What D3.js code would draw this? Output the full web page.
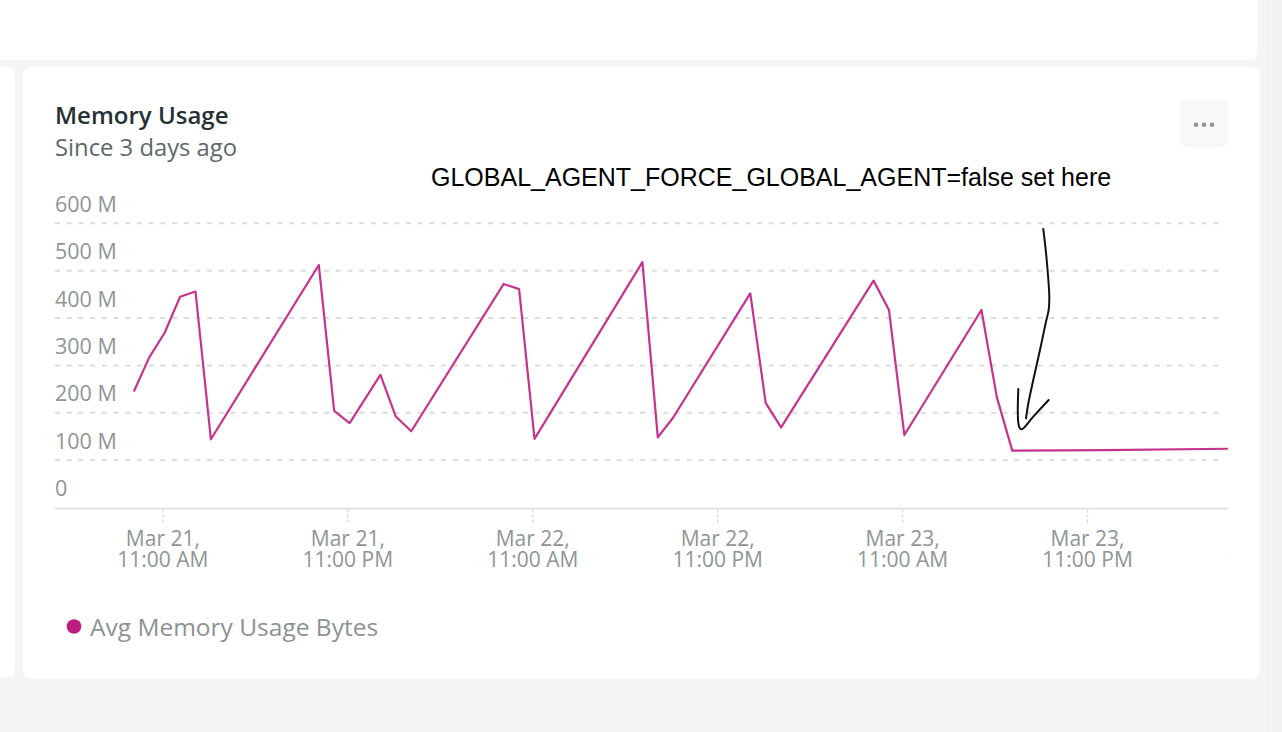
<!DOCTYPE html>
<html>
<head>
<meta charset="utf-8">
<script src="https://cdn.jsdelivr.net/npm/d3@7"></script>
<style>
  html, body { margin: 0; padding: 0; background: #f4f5f5; }
  svg { display: block; font-family: "Open Sans", sans-serif; }
</style>
</head>
<body>
<div id="chart"></div>
<script>
// Avg memory usage samples (hourly, only the turning points are kept)
const sampleTimes = [
	'2023-03-21T09:07', '2023-03-21T10:07', '2023-03-21T11:07', '2023-03-21T12:07',
	'2023-03-21T13:07', '2023-03-21T14:07', '2023-03-21T21:07', '2023-03-21T22:07',
	'2023-03-21T23:07', '2023-03-22T01:07', '2023-03-22T02:07', '2023-03-22T03:07',
	'2023-03-22T09:07', '2023-03-22T10:07', '2023-03-22T11:07', '2023-03-22T18:07',
	'2023-03-22T19:07', '2023-03-22T20:07', '2023-03-23T01:07', '2023-03-23T02:07',
	'2023-03-23T03:07', '2023-03-23T09:07', '2023-03-23T10:07', '2023-03-23T11:07',
	'2023-03-23T16:07', '2023-03-23T17:07', '2023-03-23T18:07', '2023-03-24T00:07',
	'2023-03-24T08:07'
];
const memoryMB = [
	245, 317, 369, 445, 456, 144, 512, 204, 178, 280, 192, 161,
	472, 461, 145, 518, 148, 190, 452, 221, 169, 479, 417, 153,
	417, 233, 120, 121, 124
];

const yTicks = [0, 100, 200, 300, 400, 500, 600]; // in M
const xTickTimes = [
	'2023-03-21T11:00', '2023-03-21T23:00', '2023-03-22T11:00', '2023-03-22T23:00',
	'2023-03-23T11:00', '2023-03-23T23:00', '2023-03-24T11:00'
];
const timeDomain = ['2023-03-21T04:00', '2023-03-24T08:07'];

const seriesName = 'Avg Memory Usage Bytes';
const title = 'Memory Usage';
const subtitle = 'Since 3 days ago';
const noteText = 'GLOBAL_AGENT_FORCE_GLOBAL_AGENT=false set here';

// hand drawn arrow, [hours after domain start, value in M]
const arrowShaft = [[64.13, 588], [64.35, 523], [64.52, 445], [64.48, 417], [64.29, 390],
	[63.92, 333], [63.48, 269], [63.16, 220], [63.01, 188]];
const arrowHead = [[62.51, 250], [62.56, 171], [62.73, 165], [63.48, 192], [64.48, 227]];

const W = 1282, H = 732;
const plot = { left: 55, right: 1228, top: 223.3, bottom: 507.5 };
const lineColor = '#c6338f';

const parse = d3.timeParse('%Y-%m-%dT%H:%M');
const data = sampleTimes.map((t, i) => ({ t: parse(t), v: memoryMB[i] * 1e6 }));

const svg = d3.select('#chart').append('svg')
	.attr('width', W)
	.attr('height', H);

// background + cards
svg.append('rect').attr('width', W).attr('height', H).attr('fill', '#f4f5f5');
svg.append('rect').attr('x', 1266).attr('width', W - 1266).attr('height', H).attr('fill', '#f1f3f3');
svg.append('rect').attr('x', -20).attr('y', -20).attr('width', 1277.7).attr('height', 80)
	.attr('rx', 8).attr('fill', '#fff');
svg.append('rect').attr('x', -20).attr('y', 67).attr('width', 34.7).attr('height', 610)
	.attr('rx', 8).attr('fill', '#fff');
svg.append('rect').attr('x', 23).attr('y', 67).attr('width', 1237).attr('height', 611.7)
	.attr('rx', 8).attr('fill', '#fff');

// header
svg.append('text').attr('x', 55).attr('y', 123.5)
	.attr('font-size', 24).attr('font-weight', 600).attr('fill', '#263133')
	.text(title);
svg.append('text').attr('x', 55).attr('y', 155.5)
	.attr('font-size', 23.8).attr('fill', '#5d6868')
	.text(subtitle);

// "..." menu button
const btn = svg.append('g');
btn.append('rect').attr('x', 1180).attr('y', 99).attr('width', 48).attr('height', 48)
	.attr('rx', 8).attr('fill', '#f7f8f8');
btn.selectAll('circle').data([-8, 0, 8]).join('circle')
	.attr('cx', d => 1204 + d).attr('cy', 124.7).attr('r', 2.3).attr('fill', '#8f9595');

// scales
const x = d3.scaleTime().domain(timeDomain.map(parse)).range([plot.left, plot.right]);
const y = d3.scaleLinear().domain([0, 600e6]).range([plot.bottom, plot.top]);

// grid lines + y labels
svg.append('g')
	.selectAll('line')
	.data(yTicks.filter(d => d > 0))
	.join('line')
		.attr('x1', plot.left).attr('x2', 1222)
		.attr('y1', d => y(d * 1e6)).attr('y2', d => y(d * 1e6))
		.attr('stroke', '#dadcdc').attr('stroke-width', 2)
		.attr('stroke-dasharray', '5,6.7');

svg.append('g')
	.selectAll('text')
	.data(yTicks)
	.join('text')
		.attr('x', plot.left)
		.attr('y', d => y(d * 1e6) - 11.5)
		.attr('font-size', 21.5).attr('fill', '#8f9595')
		.text(d => d === 0 ? '0' : d + ' M');

// x axis
svg.append('line')
	.attr('x1', plot.left).attr('x2', plot.right)
	.attr('y1', plot.bottom + 1).attr('y2', plot.bottom + 1)
	.attr('stroke', '#e2e4e4').attr('stroke-width', 2);

svg.append('clipPath').attr('id', 'xclip')
	.append('rect').attr('x', 0).attr('y', 0).attr('width', plot.right + 0.8).attr('height', H);

const fmtDay = d3.timeFormat('%b %-d,');
const fmtTime = d3.timeFormat('%-I:%M %p');
const xt = svg.append('g').attr('clip-path', 'url(#xclip)')
	.selectAll('g')
	.data(xTickTimes.map(parse))
	.join('g')
		.attr('transform', d => `translate(${x(d)},0)`);
xt.append('line')
	.attr('y1', plot.bottom + 2).attr('y2', plot.bottom + 16)
	.attr('stroke', '#d3d6d6').attr('stroke-width', 1.2)
	.attr('stroke-dasharray', '3,2');
xt.append('text')
	.attr('text-anchor', 'middle').attr('y', 546)
	.attr('font-size', 21).attr('fill', '#8f9595')
	.text(d => fmtDay(d));
xt.append('text')
	.attr('text-anchor', 'middle').attr('y', 567)
	.attr('font-size', 21).attr('fill', '#8f9595')
	.text(d => fmtTime(d));

// series
const line = d3.line()
	.x(d => x(d.t))
	.y(d => y(d.v));
svg.append('path')
	.datum(data)
	.attr('d', line)
	.attr('fill', 'none')
	.attr('stroke', lineColor)
	.attr('stroke-width', 2.2)
	.attr('stroke-linejoin', 'round');

// legend
svg.append('circle').attr('cx', 74).attr('cy', 626.5).attr('r', 7.3).attr('fill', '#be1d80');
svg.append('text').attr('x', 90).attr('y', 636)
	.attr('font-size', 24.5).attr('fill', '#8c9292')
	.text(seriesName);

// annotation
svg.append('text').attr('x', 431).attr('y', 186)
	.attr('font-family', '"Liberation Sans", Arial, sans-serif')
	.attr('font-size', 25).attr('fill', '#000')
	.text(noteText);

const t0 = parse(timeDomain[0]).getTime();
const arrowLine = d3.line()
	.x(d => x(new Date(t0 + d[0] * 3600e3)))
	.y(d => y(d[1] * 1e6))
	.curve(d3.curveCatmullRom);
[arrowShaft, arrowHead].forEach(pts => {
	svg.append('path')
		.attr('d', arrowLine(pts))
		.attr('fill', 'none')
		.attr('stroke', '#111')
		.attr('stroke-width', 2)
		.attr('stroke-linecap', 'round')
		.attr('stroke-linejoin', 'round');
});
</script>
</body>
</html>
